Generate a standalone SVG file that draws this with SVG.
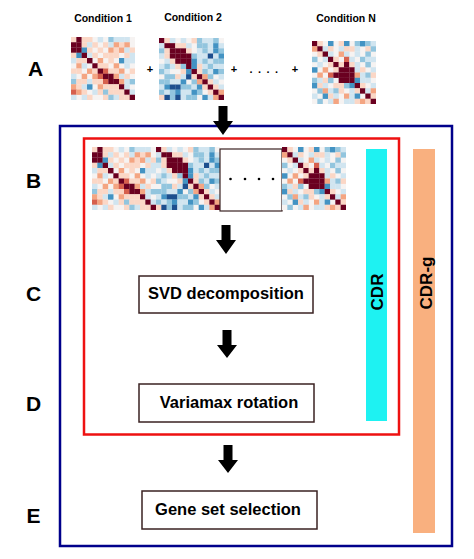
<svg xmlns="http://www.w3.org/2000/svg" xmlns:xlink="http://www.w3.org/1999/xlink" width="474" height="559" viewBox="0 0 474 559">
<style>
text{font-family:"Liberation Sans",Arial,sans-serif;font-weight:bold;fill:#000}
.lbl{font-size:21px;text-anchor:middle}
.cond{font-size:10.5px;text-anchor:middle}
.op{font-size:11px;text-anchor:middle}
.step{font-size:16.5px;text-anchor:middle}
.bar{font-size:17px;text-anchor:middle}
.box{fill:#fff;stroke:#3a2222;stroke-width:1.5}
.arrow{fill:#000}
.D{fill:#6a0020}.r3{fill:#d6604d}.r2{fill:#f4a582}.r1{fill:#fbd7c6}.bg{fill:#f6f3f2}
.b1{fill:#d1e5f0}.b2{fill:#92c5de}.b3{fill:#4393c3}.b4{fill:#1d4f8e}
</style>
<defs>
<rect id="c" width="1.03" height="1.03"/>
<symbol id="hm1" viewBox="0 0 12 12" preserveAspectRatio="none">
<rect class="bg" width="12" height="12"/>
<use href="#c" x="0" y="0" class="r1"/><use href="#c" x="1" y="0" class="D"/><use href="#c" x="2" y="0" class="r1"/><use href="#c" x="3" y="0" class="r1"/><use href="#c" x="5" y="0" class="b1"/><use href="#c" x="7" y="0" class="b2"/><use href="#c" x="8" y="0" class="b1"/><use href="#c" x="9" y="0" class="b1"/><use href="#c" x="10" y="0" class="b1"/>
<use href="#c" x="0" y="1" class="D"/><use href="#c" x="1" y="1" class="D"/><use href="#c" x="2" y="1" class="r1"/><use href="#c" x="3" y="1" class="b1"/><use href="#c" x="4" y="1" class="r1"/><use href="#c" x="6" y="1" class="r1"/><use href="#c" x="7" y="1" class="b1"/><use href="#c" x="8" y="1" class="r2"/><use href="#c" x="9" y="1" class="r1"/><use href="#c" x="10" y="1" class="r2"/>
<use href="#c" x="0" y="2" class="D"/><use href="#c" x="1" y="2" class="D"/><use href="#c" x="2" y="2" class="b3"/><use href="#c" x="3" y="2" class="r1"/><use href="#c" x="5" y="2" class="r1"/><use href="#c" x="7" y="2" class="r2"/><use href="#c" x="8" y="2" class="r1"/><use href="#c" x="9" y="2" class="r2"/><use href="#c" x="10" y="2" class="b1"/><use href="#c" x="11" y="2" class="r1"/>
<use href="#c" x="0" y="3" class="r1"/><use href="#c" x="1" y="3" class="b3"/><use href="#c" x="2" y="3" class="D"/><use href="#c" x="3" y="3" class="b1"/><use href="#c" x="4" y="3" class="r1"/><use href="#c" x="6" y="3" class="r1"/><use href="#c" x="7" y="3" class="r1"/><use href="#c" x="8" y="3" class="r1"/><use href="#c" x="10" y="3" class="r1"/><use href="#c" x="11" y="3" class="b1"/>
<use href="#c" x="0" y="4" class="b1"/><use href="#c" x="1" y="4" class="r1"/><use href="#c" x="2" y="4" class="r1"/><use href="#c" x="3" y="4" class="D"/><use href="#c" x="5" y="4" class="r2"/><use href="#c" x="7" y="4" class="r1"/><use href="#c" x="9" y="4" class="b3"/><use href="#c" x="10" y="4" class="b1"/><use href="#c" x="11" y="4" class="b1"/>
<use href="#c" x="1" y="5" class="r2"/><use href="#c" x="2" y="5" class="b1"/><use href="#c" x="4" y="5" class="D"/><use href="#c" x="5" y="5" class="r1"/><use href="#c" x="6" y="5" class="r1"/><use href="#c" x="8" y="5" class="r2"/><use href="#c" x="10" y="5" class="b1"/>
<use href="#c" x="0" y="6" class="r1"/><use href="#c" x="1" y="6" class="r1"/><use href="#c" x="3" y="6" class="r2"/><use href="#c" x="4" y="6" class="r1"/><use href="#c" x="5" y="6" class="D"/><use href="#c" x="6" y="6" class="r3"/><use href="#c" x="7" y="6" class="r1"/><use href="#c" x="8" y="6" class="r1"/><use href="#c" x="9" y="6" class="r2"/><use href="#c" x="11" y="6" class="r1"/>
<use href="#c" x="0" y="7" class="b1"/><use href="#c" x="2" y="7" class="r2"/><use href="#c" x="4" y="7" class="r2"/><use href="#c" x="5" y="7" class="r3"/><use href="#c" x="6" y="7" class="D"/><use href="#c" x="7" y="7" class="D"/><use href="#c" x="8" y="7" class="r2"/><use href="#c" x="9" y="7" class="b1"/><use href="#c" x="10" y="7" class="r1"/>
<use href="#c" x="0" y="8" class="b2"/><use href="#c" x="1" y="8" class="r1"/><use href="#c" x="2" y="8" class="r1"/><use href="#c" x="3" y="8" class="b1"/><use href="#c" x="4" y="8" class="r1"/><use href="#c" x="5" y="8" class="r1"/><use href="#c" x="6" y="8" class="r3"/><use href="#c" x="7" y="8" class="D"/><use href="#c" x="8" y="8" class="D"/><use href="#c" x="9" y="8" class="r2"/><use href="#c" x="10" y="8" class="b1"/><use href="#c" x="11" y="8" class="b2"/>
<use href="#c" x="0" y="9" class="r2"/><use href="#c" x="1" y="9" class="r1"/><use href="#c" x="2" y="9" class="b1"/><use href="#c" x="3" y="9" class="b3"/><use href="#c" x="5" y="9" class="r2"/><use href="#c" x="6" y="9" class="r1"/><use href="#c" x="7" y="9" class="r1"/><use href="#c" x="8" y="9" class="r1"/><use href="#c" x="9" y="9" class="D"/><use href="#c" x="10" y="9" class="b1"/>
<use href="#c" x="0" y="10" class="r3"/><use href="#c" x="1" y="10" class="r2"/><use href="#c" x="2" y="10" class="r1"/><use href="#c" x="4" y="10" class="b1"/><use href="#c" x="5" y="10" class="r1"/><use href="#c" x="6" y="10" class="b2"/><use href="#c" x="7" y="10" class="r1"/><use href="#c" x="8" y="10" class="r1"/><use href="#c" x="9" y="10" class="r1"/><use href="#c" x="10" y="10" class="D"/><use href="#c" x="11" y="10" class="b1"/>
<use href="#c" x="0" y="11" class="b1"/><use href="#c" x="2" y="11" class="b1"/><use href="#c" x="3" y="11" class="r1"/><use href="#c" x="6" y="11" class="r1"/><use href="#c" x="7" y="11" class="b2"/><use href="#c" x="8" y="11" class="b1"/><use href="#c" x="9" y="11" class="r1"/><use href="#c" x="10" y="11" class="r1"/><use href="#c" x="11" y="11" class="D"/>
</symbol>
<symbol id="hm2" viewBox="0 0 12 12" preserveAspectRatio="none">
<rect class="bg" width="12" height="12"/>
<use href="#c" x="0" y="0" class="D"/><use href="#c" x="1" y="0" class="r1"/><use href="#c" x="2" y="0" class="b1"/><use href="#c" x="4" y="0" class="b1"/><use href="#c" x="6" y="0" class="r1"/><use href="#c" x="7" y="0" class="b2"/><use href="#c" x="8" y="0" class="b1"/><use href="#c" x="9" y="0" class="b1"/><use href="#c" x="10" y="0" class="b2"/>
<use href="#c" x="0" y="1" class="b1"/><use href="#c" x="1" y="1" class="D"/><use href="#c" x="2" y="1" class="D"/><use href="#c" x="3" y="1" class="r1"/><use href="#c" x="4" y="1" class="r1"/><use href="#c" x="5" y="1" class="b1"/><use href="#c" x="7" y="1" class="b2"/><use href="#c" x="8" y="1" class="b2"/><use href="#c" x="9" y="1" class="b1"/><use href="#c" x="10" y="1" class="b3"/><use href="#c" x="11" y="1" class="b1"/>
<use href="#c" x="0" y="2" class="b2"/><use href="#c" x="1" y="2" class="r1"/><use href="#c" x="2" y="2" class="D"/><use href="#c" x="3" y="2" class="D"/><use href="#c" x="4" y="2" class="D"/><use href="#c" x="5" y="2" class="r1"/><use href="#c" x="7" y="2" class="b1"/><use href="#c" x="8" y="2" class="b2"/><use href="#c" x="9" y="2" class="b1"/><use href="#c" x="10" y="2" class="b3"/><use href="#c" x="11" y="2" class="b2"/>
<use href="#c" x="0" y="3" class="b1"/><use href="#c" x="1" y="3" class="r1"/><use href="#c" x="2" y="3" class="D"/><use href="#c" x="3" y="3" class="D"/><use href="#c" x="4" y="3" class="D"/><use href="#c" x="5" y="3" class="D"/><use href="#c" x="6" y="3" class="b2"/><use href="#c" x="7" y="3" class="b1"/><use href="#c" x="8" y="3" class="b1"/><use href="#c" x="9" y="3" class="b4"/><use href="#c" x="10" y="3" class="b1"/><use href="#c" x="11" y="3" class="b3"/>
<use href="#c" x="1" y="4" class="b1"/><use href="#c" x="2" y="4" class="r1"/><use href="#c" x="3" y="4" class="D"/><use href="#c" x="4" y="4" class="D"/><use href="#c" x="5" y="4" class="D"/><use href="#c" x="6" y="4" class="b3"/><use href="#c" x="7" y="4" class="b1"/><use href="#c" x="8" y="4" class="b2"/><use href="#c" x="9" y="4" class="b1"/><use href="#c" x="10" y="4" class="b2"/><use href="#c" x="11" y="4" class="b2"/>
<use href="#c" x="0" y="5" class="b1"/><use href="#c" x="1" y="5" class="b2"/><use href="#c" x="2" y="5" class="b1"/><use href="#c" x="3" y="5" class="r1"/><use href="#c" x="4" y="5" class="b2"/><use href="#c" x="5" y="5" class="D"/><use href="#c" x="6" y="5" class="b3"/><use href="#c" x="7" y="5" class="r1"/><use href="#c" x="8" y="5" class="b1"/><use href="#c" x="9" y="5" class="b2"/><use href="#c" x="10" y="5" class="b1"/><use href="#c" x="11" y="5" class="b1"/>
<use href="#c" x="0" y="6" class="b2"/><use href="#c" x="1" y="6" class="b1"/><use href="#c" x="4" y="6" class="r1"/><use href="#c" x="5" y="6" class="b3"/><use href="#c" x="6" y="6" class="D"/><use href="#c" x="7" y="6" class="r1"/><use href="#c" x="8" y="6" class="b2"/><use href="#c" x="9" y="6" class="b1"/><use href="#c" x="10" y="6" class="b3"/><use href="#c" x="11" y="6" class="b2"/>
<use href="#c" x="1" y="7" class="b2"/><use href="#c" x="2" y="7" class="b2"/><use href="#c" x="3" y="7" class="r1"/><use href="#c" x="4" y="7" class="b1"/><use href="#c" x="5" y="7" class="b4"/><use href="#c" x="6" y="7" class="r1"/><use href="#c" x="7" y="7" class="D"/><use href="#c" x="8" y="7" class="r2"/><use href="#c" x="9" y="7" class="b2"/><use href="#c" x="11" y="7" class="b1"/>
<use href="#c" x="0" y="8" class="b2"/><use href="#c" x="1" y="8" class="b2"/><use href="#c" x="2" y="8" class="b1"/><use href="#c" x="3" y="8" class="b1"/><use href="#c" x="4" y="8" class="b3"/><use href="#c" x="6" y="8" class="b2"/><use href="#c" x="7" y="8" class="r2"/><use href="#c" x="8" y="8" class="D"/><use href="#c" x="9" y="8" class="r1"/><use href="#c" x="10" y="8" class="b1"/>
<use href="#c" x="0" y="9" class="b1"/><use href="#c" x="1" y="9" class="b3"/><use href="#c" x="2" y="9" class="b4"/><use href="#c" x="3" y="9" class="b4"/><use href="#c" x="4" y="9" class="b2"/><use href="#c" x="5" y="9" class="b2"/><use href="#c" x="6" y="9" class="b1"/><use href="#c" x="7" y="9" class="b3"/><use href="#c" x="8" y="9" class="r1"/><use href="#c" x="9" y="9" class="D"/><use href="#c" x="10" y="9" class="r1"/><use href="#c" x="11" y="9" class="b1"/>
<use href="#c" x="0" y="10" class="b2"/><use href="#c" x="1" y="10" class="b1"/><use href="#c" x="2" y="10" class="b2"/><use href="#c" x="3" y="10" class="b3"/><use href="#c" x="4" y="10" class="b1"/><use href="#c" x="5" y="10" class="b1"/><use href="#c" x="6" y="10" class="b3"/><use href="#c" x="7" y="10" class="b2"/><use href="#c" x="9" y="10" class="r1"/><use href="#c" x="10" y="10" class="D"/><use href="#c" x="11" y="10" class="r2"/>
<use href="#c" x="0" y="11" class="r1"/><use href="#c" x="1" y="11" class="b4"/><use href="#c" x="2" y="11" class="b2"/><use href="#c" x="3" y="11" class="b4"/><use href="#c" x="4" y="11" class="b1"/><use href="#c" x="5" y="11" class="b2"/><use href="#c" x="6" y="11" class="b2"/><use href="#c" x="8" y="11" class="b3"/><use href="#c" x="9" y="11" class="b1"/><use href="#c" x="10" y="11" class="r2"/><use href="#c" x="11" y="11" class="D"/>
</symbol>
<symbol id="hm3" viewBox="0 0 12 12" preserveAspectRatio="none">
<rect class="bg" width="12" height="12"/>
<use href="#c" x="0" y="0" class="D"/><use href="#c" x="1" y="0" class="r1"/><use href="#c" x="3" y="0" class="b3"/><use href="#c" x="5" y="0" class="r1"/><use href="#c" x="6" y="0" class="b3"/><use href="#c" x="8" y="0" class="b2"/><use href="#c" x="9" y="0" class="b3"/><use href="#c" x="10" y="0" class="b2"/><use href="#c" x="11" y="0" class="b1"/>
<use href="#c" x="0" y="1" class="r2"/><use href="#c" x="1" y="1" class="D"/><use href="#c" x="2" y="1" class="b1"/><use href="#c" x="3" y="1" class="r1"/><use href="#c" x="5" y="1" class="b1"/><use href="#c" x="6" y="1" class="r1"/><use href="#c" x="7" y="1" class="r1"/><use href="#c" x="8" y="1" class="b1"/><use href="#c" x="10" y="1" class="r1"/><use href="#c" x="11" y="1" class="b2"/>
<use href="#c" x="1" y="2" class="r1"/><use href="#c" x="2" y="2" class="D"/><use href="#c" x="3" y="2" class="b1"/><use href="#c" x="5" y="2" class="r2"/><use href="#c" x="6" y="2" class="b1"/><use href="#c" x="8" y="2" class="b1"/><use href="#c" x="10" y="2" class="b2"/>
<use href="#c" x="0" y="3" class="b2"/><use href="#c" x="2" y="3" class="b1"/><use href="#c" x="3" y="3" class="D"/><use href="#c" x="4" y="3" class="r1"/><use href="#c" x="6" y="3" class="r3"/><use href="#c" x="7" y="3" class="b1"/><use href="#c" x="9" y="3" class="b2"/><use href="#c" x="10" y="3" class="b1"/><use href="#c" x="11" y="3" class="b1"/>
<use href="#c" x="1" y="4" class="b1"/><use href="#c" x="3" y="4" class="r1"/><use href="#c" x="4" y="4" class="D"/><use href="#c" x="5" y="4" class="r1"/><use href="#c" x="6" y="4" class="D"/><use href="#c" x="7" y="4" class="r1"/><use href="#c" x="8" y="4" class="b1"/><use href="#c" x="10" y="4" class="b2"/>
<use href="#c" x="0" y="5" class="b3"/><use href="#c" x="2" y="5" class="r2"/><use href="#c" x="4" y="5" class="r1"/><use href="#c" x="5" y="5" class="D"/><use href="#c" x="6" y="5" class="D"/><use href="#c" x="7" y="5" class="D"/><use href="#c" x="8" y="5" class="b1"/><use href="#c" x="9" y="5" class="r1"/><use href="#c" x="11" y="5" class="b1"/>
<use href="#c" x="1" y="6" class="r2"/><use href="#c" x="3" y="6" class="r3"/><use href="#c" x="4" y="6" class="D"/><use href="#c" x="5" y="6" class="D"/><use href="#c" x="6" y="6" class="D"/><use href="#c" x="7" y="6" class="D"/><use href="#c" x="8" y="6" class="r2"/><use href="#c" x="9" y="6" class="b1"/><use href="#c" x="10" y="6" class="b2"/><use href="#c" x="11" y="6" class="r1"/>
<use href="#c" x="0" y="7" class="b2"/><use href="#c" x="1" y="7" class="b1"/><use href="#c" x="2" y="7" class="r1"/><use href="#c" x="3" y="7" class="b2"/><use href="#c" x="5" y="7" class="D"/><use href="#c" x="6" y="7" class="D"/><use href="#c" x="7" y="7" class="D"/><use href="#c" x="8" y="7" class="b3"/><use href="#c" x="9" y="7" class="b1"/><use href="#c" x="10" y="7" class="b1"/>
<use href="#c" x="0" y="8" class="b3"/><use href="#c" x="1" y="8" class="r1"/><use href="#c" x="2" y="8" class="b1"/><use href="#c" x="4" y="8" class="r1"/><use href="#c" x="5" y="8" class="r1"/><use href="#c" x="6" y="8" class="b2"/><use href="#c" x="7" y="8" class="b3"/><use href="#c" x="8" y="8" class="D"/><use href="#c" x="9" y="8" class="r1"/><use href="#c" x="11" y="8" class="b1"/>
<use href="#c" x="1" y="9" class="b2"/><use href="#c" x="2" y="9" class="r2"/><use href="#c" x="3" y="9" class="b1"/><use href="#c" x="4" y="9" class="b2"/><use href="#c" x="5" y="9" class="r1"/><use href="#c" x="7" y="9" class="b1"/><use href="#c" x="8" y="9" class="r1"/><use href="#c" x="9" y="9" class="D"/><use href="#c" x="10" y="9" class="b1"/><use href="#c" x="11" y="9" class="r2"/>
<use href="#c" x="0" y="10" class="b1"/><use href="#c" x="2" y="10" class="b3"/><use href="#c" x="3" y="10" class="r1"/><use href="#c" x="4" y="10" class="b1"/><use href="#c" x="6" y="10" class="r2"/><use href="#c" x="7" y="10" class="b1"/><use href="#c" x="8" y="10" class="b3"/><use href="#c" x="10" y="10" class="D"/><use href="#c" x="11" y="10" class="r1"/>
<use href="#c" x="1" y="11" class="b2"/><use href="#c" x="3" y="11" class="b1"/><use href="#c" x="4" y="11" class="r2"/><use href="#c" x="6" y="11" class="b1"/><use href="#c" x="7" y="11" class="b1"/><use href="#c" x="8" y="11" class="r1"/><use href="#c" x="9" y="11" class="r2"/><use href="#c" x="10" y="11" class="r1"/><use href="#c" x="11" y="11" class="D"/>
</symbol>
</defs>
<rect width="474" height="559" fill="#fff"/>

<g id="row-labels">
<text class="lbl" x="35.5" y="76">A</text>
<text class="lbl" x="33.5" y="188">B</text>
<text class="lbl" x="33.5" y="301">C</text>
<text class="lbl" x="33.5" y="411">D</text>
<text class="lbl" x="33.5" y="523">E</text>
</g>

<g id="outer-box"><rect x="60" y="126" width="392" height="420" fill="none" stroke="#00008b" stroke-width="2.5"/></g>
<g id="cdr-box"><rect x="84" y="138.5" width="315" height="296" fill="none" stroke="#ee1111" stroke-width="2.5"/></g>

<g id="conditions">
<text class="cond" x="103" y="22">Condition 1</text>
<text class="cond" x="193" y="21">Condition 2</text>
<text class="cond" x="346" y="22">Condition N</text>
<use id="cond1" href="#hm1" x="71" y="37" width="64" height="63"/>
<use id="cond2" href="#hm2" x="159" y="38" width="65" height="62"/>
<use id="condN" href="#hm3" x="312" y="41" width="64" height="63"/>
<text class="op" x="150" y="73">+</text>
<text class="op" x="234" y="73">+</text>
<text class="op" x="251" y="73">.</text>
<text class="op" x="259.5" y="73">.</text>
<text class="op" x="268" y="73">.</text>
<text class="op" x="276.5" y="73">.</text>
<text class="op" x="295" y="73">+</text>
</g>

<g id="merged-matrix">
<use href="#hm1" x="92" y="147" width="64" height="63"/>
<use href="#hm2" x="156" y="147" width="64" height="63"/>
<rect x="220" y="149" width="62" height="62" fill="#fff" stroke="#3a2222" stroke-width="1.2"/>
<g fill="#000"><circle cx="230.5" cy="179" r="1.3"/><circle cx="245" cy="179" r="1.3"/><circle cx="259" cy="179" r="1.3"/><circle cx="273" cy="179" r="1.3"/></g>
<use href="#hm3" x="282" y="147" width="64" height="63"/>
</g>

<g id="cdr-bar">
<rect x="366" y="149" width="21" height="272" fill="#1ef2f2"/>
<text class="bar" transform="translate(383,292) rotate(-90)">CDR</text>
</g>
<g id="cdrg-bar">
<rect x="413" y="149" width="22" height="384" fill="#f9b07f"/>
<text class="bar" transform="translate(432,283) rotate(-90)">CDR-g</text>
</g>

<g id="svd">
<rect class="box" x="139" y="276" width="174" height="37"/>
<text class="step" x="226" y="299">SVD decomposition</text>
</g>
<g id="varimax">
<rect class="box" x="139" y="384" width="175" height="38"/>
<text class="step" x="229" y="408">Variamax rotation</text>
</g>
<g id="geneset">
<rect class="box" x="142" y="491" width="175" height="38"/>
<text class="step" x="228" y="515">Gene set selection</text>
</g>

<g id="connectors" class="arrow">
<path d="M218.5 106 H227.5 V121 H233 L223 135 L213 121 H218.5 Z"/>
<path d="M221.5 225 H230.5 V240 H236 L226 254 L216 240 H221.5 Z"/>
<path d="M222.5 330 H231.5 V345 H237 L227 358 L217 345 H222.5 Z"/>
<path d="M223.5 445 H232.5 V460 H238 L228 473 L218 460 H223.5 Z"/>
</g>
</svg>
